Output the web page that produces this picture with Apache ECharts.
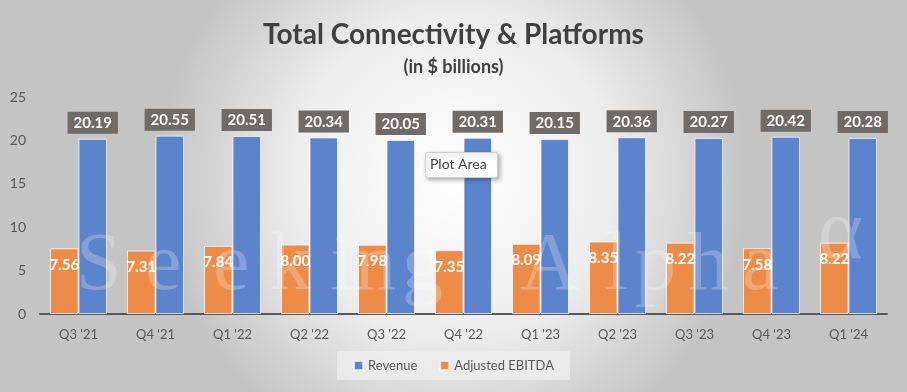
<!DOCTYPE html>
<html>
<head>
<meta charset="utf-8">
<script src="https://cdn.jsdelivr.net/npm/echarts@6/dist/echarts.min.js"></script>
<style>
html,body{margin:0;padding:0;}
#main{width:907px;height:392px;}
</style>
</head>
<body>
<div id="main"></div>
<script>
const categories = ["Q3 '21","Q4 '21","Q1 '22","Q2 '22","Q3 '22","Q4 '22","Q1 '23","Q2 '23","Q3 '23","Q4 '23","Q1 '24"];
const revenue = [20.19,20.55,20.51,20.34,20.05,20.31,20.15,20.36,20.27,20.42,20.28];
const ebitda = [7.56,7.31,7.84,8.00,7.98,7.35,8.09,8.35,8.22,7.58,8.22];

const FONT = 'Lato, "Open Sans", sans-serif';
const chart = echarts.init(document.getElementById('main'));

const wm = [['S',76],['e',145],['e',213],['k',270],['i',330],['n',355],['g',402],['A',520],['l',605],['p',635],['h',688],['a',742]];
const wmGraphics = wm.map(([c,x]) => ({
  type:'text', left:x, top:226, z:100, silent:true,
  style:{text:c, font:'82px "Liberation Serif", serif', fill:'rgba(255,255,255,0.24)'}
}));
wmGraphics.push({type:'text', left:818, top:192, z:100, silent:true,
  style:{text:'α', font:'86px "Liberation Serif", serif', fill:'rgba(255,255,255,0.24)'}});

chart.setOption({
  backgroundColor: {
    type:'radial', x:0.5, y:0.45, r:0.75,
    colorStops:[{offset:0,color:'#ffffff'},{offset:0.55,color:'#ececec'},{offset:1,color:'#c4c4c4'}]
  },
  textStyle:{fontFamily:FONT},
  title:[
    {text:'Total Connectivity & Platforms', left:'center', top:16,
     textStyle:{fontSize:28, fontWeight:'bold', color:'#404040', fontFamily:FONT}},
    {text:'(in $ billions)', left:'center', top:53,
     textStyle:{fontSize:18, fontWeight:'bold', color:'#404040', fontFamily:FONT}}
  ],
  legend:{
    data:['Revenue','Adjusted EBITDA'], bottom:12, left:'center',
    itemWidth:9, itemHeight:9, itemGap:22, icon:'rect',
    backgroundColor:'rgba(235,235,235,0.9)', padding:[8,16],
    textStyle:{fontSize:13, color:'#595959', fontFamily:FONT}
  },
  grid:{left:40, right:20, top:97, bottom:78},
  xAxis:{
    type:'category', data:categories,
    axisLine:{lineStyle:{color:'#595959', width:2}},
    axisTick:{show:false},
    axisLabel:{fontSize:13, color:'#595959', margin:14, fontFamily:FONT}
  },
  yAxis:{
    type:'value', min:0, max:25, interval:5,
    splitLine:{show:false},
    axisLabel:{fontSize:14, color:'#595959', margin:14, fontFamily:FONT}
  },
  series:[
    {name:'Adjusted EBITDA', type:'bar', data:ebitda, barGap:'0%', barCategoryGap:'26%',
     itemStyle:{color:'#ed8b48', borderColor:'rgba(255,255,255,0.7)', borderWidth:1},
     label:{show:true, position:'insideTop', distance:9, formatter:p=>p.value.toFixed(2),
       color:'#ffffff', fontSize:15, fontWeight:'bold', fontFamily:FONT}},
    {name:'Revenue', type:'bar', data:revenue,
     itemStyle:{color:'#5b84cc', borderColor:'rgba(255,255,255,0.7)', borderWidth:1},
     label:{show:true, position:'top', distance:5, formatter:p=>p.value.toFixed(2),
       color:'#ffffff', fontSize:15, fontWeight:'bold', fontFamily:FONT,
       backgroundColor:'#6f6b69', padding:[4,6,3,6]}}
  ],
  graphic: wmGraphics.concat([
    {type:'rect', left:425, top:152, z:200, silent:true,
     shape:{width:72,height:25,r:2},
     style:{fill:'#ffffff', stroke:'#cfcfcf', lineWidth:1, shadowBlur:4, shadowOffsetX:2, shadowOffsetY:2, shadowColor:'rgba(0,0,0,0.3)'}},
    {type:'text', left:430, top:157, z:201, silent:true,
     style:{text:'Plot Area', font:'14px ' + FONT, fill:'#404040'}}
  ])
});
</script>
</body>
</html>
